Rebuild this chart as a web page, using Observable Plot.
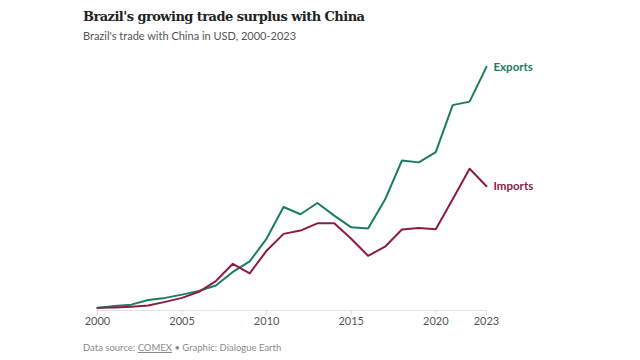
<!DOCTYPE html>
<html>
<head>
<meta charset="utf-8">
<script src="https://cdn.jsdelivr.net/npm/d3@7"></script>
<script src="https://cdn.jsdelivr.net/npm/@observablehq/plot@0.6"></script>
<style>
  html, body { margin: 0; padding: 0; background: #fff; }
  #wrap { position: relative; width: 640px; height: 360px; overflow: hidden; }
  #title { position: absolute; left: 83px; top: 9px; font-family: "DejaVu Serif", serif; font-weight: bold; font-size: 13px; color: #222; letter-spacing: -0.55px; white-space: nowrap; }
  #subtitle { position: absolute; left: 83px; top: 29px; font-family: Lato, sans-serif; font-size: 11px; color: #555; white-space: nowrap; }
  #chart { position: absolute; left: 0; top: 50px; }
  #footer { position: absolute; left: 83px; top: 342px; font-family: Lato, sans-serif; font-size: 9.5px; color: #8a8a8a; white-space: nowrap; }
  #footer u { text-decoration: underline; }
</style>
</head>
<body>
<div id="wrap">
  <div id="title">Brazil's growing trade surplus with China</div>
  <div id="subtitle">Brazil's trade with China in USD, 2000-2023</div>
  <div id="chart"></div>
  <div id="footer">Data source: <u>COMEX</u> • Graphic: Dialogue Earth</div>
</div>
<script>
const years = [2000,2001,2002,2003,2004,2005,2006,2007,2008,2009,2010,2011,2012,2013,2014,2015,2016,2017,2018,2019,2020,2021,2022,2023];
const exportsBn = [1.1,1.9,2.5,4.5,5.4,6.8,8.4,10.7,16.5,21.0,30.8,44.3,41.2,46.0,40.6,35.6,35.1,47.5,64.2,63.4,67.8,87.9,89.4,104.3];
const importsBn = [1.2,1.3,1.6,2.1,3.7,5.4,8.0,12.6,20.0,15.9,25.6,32.8,34.2,37.3,37.3,30.7,23.4,27.3,34.7,35.3,34.8,47.6,60.7,53.2];
const seriesNames = ["Exports", "Imports"];
const seriesColors = ["#1c7c62", "#8c1c45"];
const xTicks = [2000, 2005, 2010, 2015, 2020, 2023];

const rows = [];
years.forEach((y, i) => {
  rows.push({year: y, value: exportsBn[i], series: seriesNames[0]});
  rows.push({year: y, value: importsBn[i], series: seriesNames[1]});
});
const last = rows.filter(d => d.year === years[years.length - 1]);

const chart = Plot.plot({
  width: 640,
  height: 290,
  marginLeft: 97,
  marginRight: 154,
  marginTop: 3,
  marginBottom: 30,
  style: { fontFamily: "Lato, sans-serif", fontSize: "11px", color: "#555", background: "transparent" },
  x: { domain: [2000, 2023], ticks: xTicks, tickFormat: "d", label: null, tickSize: 5, tickPadding: 2 },
  y: { domain: [0, 110], axis: null },
  color: { domain: seriesNames, range: seriesColors },
  marks: [
    Plot.ruleY([0], { stroke: "#e3e3e3", strokeWidth: 1 }),
    Plot.axisX({ ticks: xTicks, tickFormat: "d", tickSize: 5, tickPadding: 2, stroke: "#dcdcdc", fill: "#555", label: null, fontSize: 11 }),
    Plot.line(rows, { x: "year", y: "value", z: "series", stroke: "series", strokeWidth: 2 }),
    Plot.text(last, { x: "year", y: "value", text: "series", fill: "series", dx: 7, textAnchor: "start", fontWeight: "bold", fontSize: 11.5 })
  ]
});
document.getElementById("chart").appendChild(chart);
</script>
</body>
</html>
